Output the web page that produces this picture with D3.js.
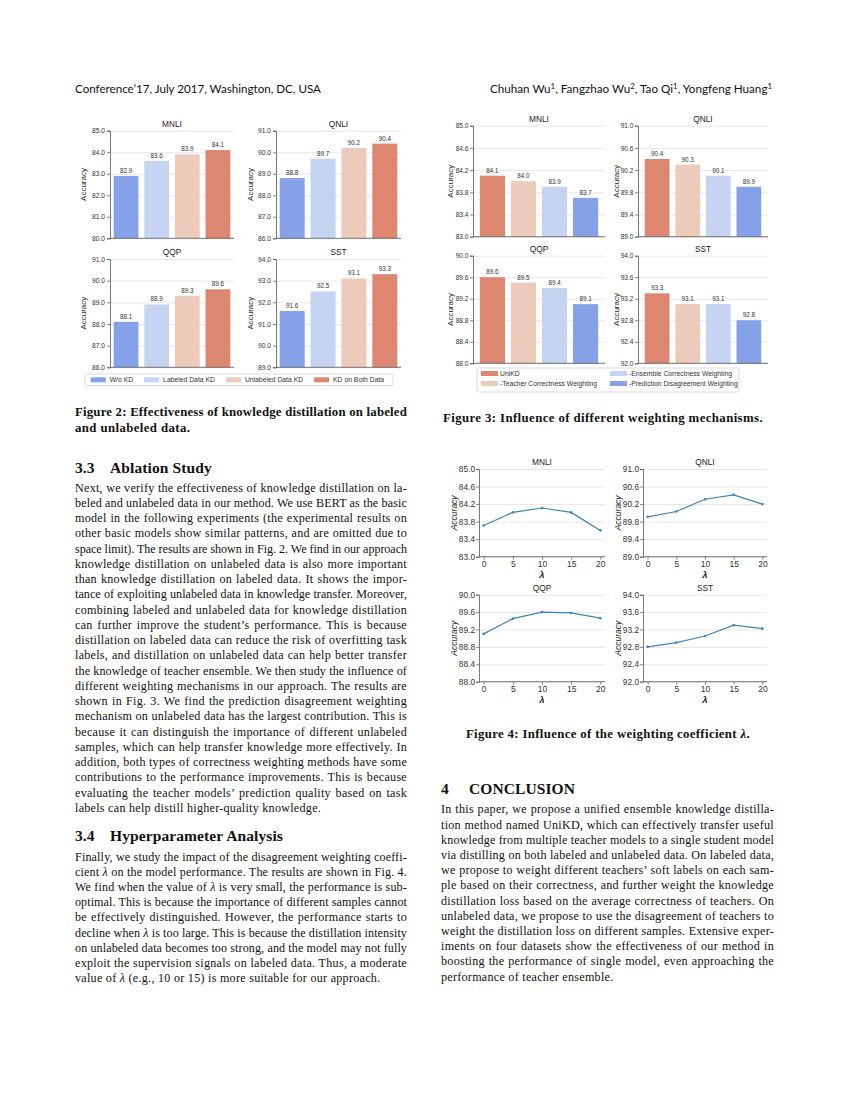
<!DOCTYPE html>
<html>
<head>
<meta charset="utf-8">
<script src="https://cdn.jsdelivr.net/npm/d3@7"></script>
<style>
body { margin: 0; background: #fff; }
svg { display: block; }
</style>
</head>
<body>
<svg id="page" width="850" height="1100"></svg>
<script>
// ---- data ----
const DATASETS = ['MNLI', 'QNLI', 'QQP', 'SST'];

// Figure 2: knowledge distillation on labeled / unlabeled data
const KD_SERIES = ['W/o KD', 'Labeled Data KD', 'Unlabeled Data KD', 'KD on Both Data'];
const KD_MNLI = [82.9, 83.6, 83.9, 84.1];
const KD_QNLI = [88.8, 89.7, 90.2, 90.4];
const KD_QQP = [88.1, 88.9, 89.3, 89.6];
const KD_SST = [91.6, 92.5, 93.1, 93.3];
const KD_TICKS_MNLI = [80, 81, 82, 83, 84, 85];
const KD_TICKS_QNLI = [86, 87, 88, 89, 90, 91];
const KD_TICKS_QQP = [86, 87, 88, 89, 90, 91];
const KD_TICKS_SST = [89, 90, 91, 92, 93, 94];

// Figure 3: weighting mechanisms
const W_SERIES = ['UniKD', '-Teacher Correctness Weighting', '-Ensemble Correctness Weighting', '-Prediction Disagreement Weighting'];
const W_MNLI = [84.1, 84.0, 83.9, 83.7];
const W_QNLI = [90.4, 90.3, 90.1, 89.9];
const W_QQP = [89.6, 89.5, 89.4, 89.1];
const W_SST = [93.3, 93.1, 93.1, 92.8];
const W_TICKS_MNLI = [83.0, 83.4, 83.8, 84.2, 84.6, 85.0];
const W_TICKS_QNLI = [89.0, 89.4, 89.8, 90.2, 90.6, 91.0];
const W_TICKS_QQP = [88.0, 88.4, 88.8, 89.2, 89.6, 90.0];
const W_TICKS_SST = [92.0, 92.4, 92.8, 93.2, 93.6, 94.0];

// Figure 4: weighting coefficient lambda
const LAMBDAS = [0, 5, 10, 15, 20];
const L_MNLI = [83.71, 84.01, 84.11, 84.01, 83.6];
const L_QNLI = [89.91, 90.03, 90.31, 90.41, 90.2];
const L_QQP = [89.1, 89.45, 89.6, 89.58, 89.46];
const L_SST = [92.8, 92.9, 93.05, 93.3, 93.22];

// ---- styles ----
const SANS = '"Liberation Sans", Arial, sans-serif';
const SERIF = '"Liberation Serif", "Times New Roman", serif';
const HEAD = 'Lato, "Open Sans", sans-serif';
const KD_COLORS = ['#85a2e8', '#c5d4f0', '#eccbbb', '#dd8670'];
const W_COLORS = ['#dd8670', '#eccbbb', '#c5d4f0', '#85a2e8'];
const LINE_COLOR = '#3d84bd';
const AXIS = '#555';
const GRID = '#dcdcdc';

const svg = d3.select('#page');
svg.append('rect').attr('width', 850).attr('height', 1100).attr('fill', '#fff');

// ---- panel helpers ----
function frame(g, p, y) {
  g.append('g')
    .attr('transform', `translate(${p.x0},0)`)
    .call(d3.axisLeft(y).tickValues(p.ticks).tickSize(-(p.x1 - p.x0)).tickFormat(''))
    .call(a => a.select('.domain').remove())
    .selectAll('line').attr('stroke', GRID).attr('stroke-width', 0.7);
}

function leftAxis(g, p, y) {
  const ax = g.append('g')
    .attr('transform', `translate(${p.x0},0)`)
    .call(d3.axisLeft(y).tickValues(p.ticks).tickFormat(d3.format('.1f')).tickSize(3).tickPadding(p.tickPad));
  ax.select('.domain').attr('stroke', AXIS).attr('stroke-width', 0.8);
  ax.selectAll('.tick line').attr('stroke', AXIS).attr('stroke-width', 0.7);
  ax.selectAll('.tick text').attr('font-family', SANS).attr('font-size', p.tickFont).attr('fill', '#333');
  g.append('line')
    .attr('x1', p.x0).attr('x2', p.x1).attr('y1', p.y1).attr('y2', p.y1)
    .attr('stroke', AXIS).attr('stroke-width', 0.8);
  g.append('text')
    .attr('x', (p.x0 + p.x1) / 2).attr('y', p.y0 - 4)
    .attr('text-anchor', 'middle')
    .attr('font-family', SANS).attr('font-size', 8.3).attr('fill', '#222')
    .text(p.title);
  // rotated label: baseline sits at labX, glyphs extend to the left
  g.append('text')
    .attr('transform', `translate(${p.labX},${(p.y0 + p.y1) / 2}) rotate(-90)`)
    .attr('text-anchor', 'middle')
    .attr('font-family', SANS).attr('font-size', p.labFont)
    .attr('font-style', p.italicLabel ? 'italic' : 'normal')
    .attr('fill', '#222')
    .text('Accuracy');
}

function barPanel(p) {
  const g = svg.append('g');
  const x = d3.scaleBand().domain(p.labels).range([p.x0, p.x1])
    .paddingInner(0.19).paddingOuter(p.outer);
  const y = d3.scaleLinear().domain([p.ticks[0], p.ticks[p.ticks.length - 1]]).range([p.y1, p.y0]);
  frame(g, p, y);
  const rows = p.values.map((v, i) => ({ k: p.labels[i], v: v, c: p.colors[i] }));
  g.selectAll('rect.bar').data(rows).join('rect')
    .attr('class', 'bar')
    .attr('x', d => x(d.k))
    .attr('width', x.bandwidth())
    .attr('y', d => y(d.v))
    .attr('height', d => p.y1 - y(d.v))
    .attr('fill', d => d.c);
  g.selectAll('text.val').data(rows).join('text')
    .attr('class', 'val')
    .attr('x', d => x(d.k) + x.bandwidth() / 2)
    .attr('y', d => y(d.v) - 3)
    .attr('text-anchor', 'middle')
    .attr('font-family', SANS).attr('font-size', 6.3).attr('fill', '#333')
    .text(d => d3.format('.1f')(d.v));
  leftAxis(g, p, y);
}

function linePanel(p) {
  const g = svg.append('g');
  const x = d3.scaleLinear().domain([-0.8, 20.8]).range([p.x0, p.x1]);
  const y = d3.scaleLinear().domain([p.ticks[0], p.ticks[p.ticks.length - 1]]).range([p.y1, p.y0]);
  frame(g, p, y);
  const pts = LAMBDAS.map((l, i) => ({ l: l, v: p.values[i] }));
  g.append('path').datum(pts)
    .attr('fill', 'none').attr('stroke', LINE_COLOR).attr('stroke-width', 1.2)
    .attr('d', d3.line().x(d => x(d.l)).y(d => y(d.v)));
  g.selectAll('circle').data(pts).join('circle')
    .attr('cx', d => x(d.l)).attr('cy', d => y(d.v)).attr('r', 1.3)
    .attr('fill', LINE_COLOR);
  leftAxis(g, p, y);
  const bx = g.append('g')
    .attr('transform', `translate(0,${p.y1})`)
    .call(d3.axisBottom(x).tickValues(LAMBDAS).tickSize(3).tickPadding(1.5));
  bx.select('.domain').remove();
  bx.selectAll('.tick line').attr('stroke', AXIS).attr('stroke-width', 0.7);
  bx.selectAll('.tick text').attr('font-family', SANS).attr('font-size', 8.5).attr('fill', '#333');
  g.append('text')
    .attr('x', (p.x0 + p.x1) / 2).attr('y', p.y1 + 21)
    .attr('text-anchor', 'middle')
    .attr('font-family', SANS).attr('font-size', 9.5)
    .attr('font-weight', 'bold').attr('font-style', 'italic').attr('fill', '#222')
    .text('λ');
}

// ---- Figure 2 ----
const kdValues = [KD_MNLI, KD_QNLI, KD_QQP, KD_SST];
const kdTicks = [KD_TICKS_MNLI, KD_TICKS_QNLI, KD_TICKS_QQP, KD_TICKS_SST];
const fig2Boxes = [
  { x0: 110, x1: 234, y0: 130.7, y1: 238.3, labX: 86 },
  { x0: 276, x1: 401, y0: 130.7, y1: 238.3, labX: 252.5 },
  { x0: 110, x1: 234, y0: 259, y1: 367.3, labX: 86 },
  { x0: 276, x1: 401, y0: 259, y1: 367.3, labX: 252.5 }
];
fig2Boxes.forEach((b, i) => barPanel(Object.assign({}, b, {
  title: DATASETS[i], values: kdValues[i], ticks: kdTicks[i],
  labels: KD_SERIES, colors: KD_COLORS, outer: 0.12,
  tickFont: 6.7, tickPad: 2, labFont: 8
})));

// legend fig 2
(function () {
  const g = svg.append('g');
  g.append('rect').attr('x', 85).attr('y', 374).attr('width', 308).attr('height', 11.5)
    .attr('fill', '#fff').attr('stroke', '#ccc').attr('stroke-width', 0.7).attr('rx', 1.5);
  let cx = 90.7;
  KD_SERIES.forEach((s, i) => {
    g.append('rect').attr('x', cx).attr('y', 377.3).attr('width', 15).attr('height', 5)
      .attr('fill', KD_COLORS[i]);
    const t = g.append('text').attr('x', cx + 19).attr('y', 382.3)
      .attr('font-family', SANS).attr('font-size', 6.8).attr('fill', '#333').text(s);
    cx += 19 + t.node().getComputedTextLength() + 11;
  });
})();

// ---- Figure 3 ----
const wValues = [W_MNLI, W_QNLI, W_QQP, W_SST];
const wTicks = [W_TICKS_MNLI, W_TICKS_QNLI, W_TICKS_QQP, W_TICKS_SST];
const fig3Boxes = [
  { x0: 473, x1: 605, y0: 125.7, y1: 236.7, labX: 452.5 },
  { x0: 638, x1: 768, y0: 125.7, y1: 236.7, labX: 619 },
  { x0: 473, x1: 605, y0: 255.7, y1: 363.3, labX: 452.5 },
  { x0: 638, x1: 768, y0: 255.7, y1: 363.3, labX: 619 }
];
fig3Boxes.forEach((b, i) => barPanel(Object.assign({}, b, {
  title: DATASETS[i], values: wValues[i], ticks: wTicks[i],
  labels: W_SERIES, colors: W_COLORS, outer: 0.22,
  tickFont: 6.6, tickPad: 1.5, labFont: 8
})));

// legend fig 3: two columns of two entries
(function () {
  const g = svg.append('g');
  g.append('rect').attr('x', 477).attr('y', 368).attr('width', 262).attr('height', 24)
    .attr('fill', '#fff').attr('stroke', '#ccc').attr('stroke-width', 0.7).attr('rx', 1.5);
  const cols = [481, 610];
  W_SERIES.forEach((s, i) => {
    const col = cols[i < 2 ? 0 : 1];
    const r = i % 2;
    g.append('rect').attr('x', col).attr('y', 371 + r * 10).attr('width', 17).attr('height', 5)
      .attr('fill', W_COLORS[i]);
    g.append('text').attr('x', col + 19).attr('y', 376 + r * 10)
      .attr('font-family', SANS).attr('font-size', 6.8).attr('fill', '#333').text(s);
  });
})();

// ---- Figure 4 ----
const lValues = [L_MNLI, L_QNLI, L_QQP, L_SST];
const fig4Boxes = [
  { x0: 479, x1: 605, y0: 469, y1: 556.7, labX: 457 },
  { x0: 643, x1: 767, y0: 469, y1: 556.7, labX: 621 },
  { x0: 479, x1: 605, y0: 594.7, y1: 681.7, labX: 457 },
  { x0: 643, x1: 767, y0: 594.7, y1: 681.7, labX: 621 }
];
fig4Boxes.forEach((b, i) => linePanel(Object.assign({}, b, {
  title: DATASETS[i], values: lValues[i], ticks: wTicks[i], italicLabel: true,
  tickFont: 8.3, tickPad: 1, labFont: 8.5
})));

// ---- page text ----
function addLine(str, x, y, opts) {
  const ls = opts.ls == null ? 0.27 : opts.ls;
  const t = svg.append('text').attr('x', x).attr('y', y)
    .attr('font-family', opts.family || SERIF)
    .attr('font-size', opts.size || 12.1)
    .attr('font-weight', opts.weight || 'normal')
    .attr('letter-spacing', ls)
    .attr('text-anchor', opts.anchor || 'start')
    .attr('fill', '#111');
  // italic lambda keeps its surrounding spaces so its box does not run into neighbours
  str.split(/( ?λ ?)/).forEach(part => {
    if (!part) return;
    const s = t.append('tspan').text(part);
    if (part.indexOf('λ') >= 0) s.attr('font-style', 'italic');
  });
  if (opts.width) {
    let nat = t.node().getComputedTextLength();
    if (nat > opts.width) {
      // too long: tighten the letter spacing instead of squeezing glyphs
      t.attr('letter-spacing', ls - (nat - opts.width + 0.5) / str.length);
      nat = t.node().getComputedTextLength();
    }
    const spaces = (str.match(/ /g) || []).length;
    if (spaces > 0) t.attr('word-spacing', (opts.width - nat) / spaces);
  }
  return t;
}

function para(lines, x, y, lh, w, opts) {
  lines.forEach((ln, i) => {
    const last = i === lines.length - 1;
    addLine(ln, x, y + i * lh, Object.assign({}, opts || {}, { width: last ? null : w }));
  });
}

// running header
addLine('Conference’17, July 2017, Washington, DC, USA', 75, 93, { family: HEAD, size: 11.6, ls: 0 });
(function () {
  const t = svg.append('text').attr('x', 772).attr('y', 93).attr('text-anchor', 'end')
    .attr('font-family', HEAD).attr('font-size', 11.7).attr('fill', '#111');
  const parts = [['Chuhan Wu', '1'], [', Fangzhao Wu', '2'], [', Tao Qi', '1'], [', Yongfeng Huang', '1']];
  parts.forEach((p, i) => {
    t.append('tspan').attr('dy', i === 0 ? 0 : 4).text(p[0]);
    t.append('tspan').attr('dy', -4).attr('font-size', 7.8).text(p[1]);
  });
})();

// figure captions
para(['Figure 2: Effectiveness of knowledge distillation on labeled', 'and unlabeled data.'],
  75, 415.5, 16, 332, { weight: 'bold', size: 12.8, ls: 0.4 });
addLine('Figure 3: Influence of different weighting mechanisms.', 603, 422,
  { weight: 'bold', size: 12.8, ls: 0.4, anchor: 'middle' });
addLine('Figure 4: Influence of the weighting coefficient λ.', 608, 738,
  { weight: 'bold', size: 12.8, ls: 0.35, anchor: 'middle' });

// section headings
function heading(num, title, x, tx, y) {
  addLine(num, x, y, { weight: 'bold', size: 15.5, ls: 0.1 });
  addLine(title, tx, y, { weight: 'bold', size: 15.5, ls: 0.1 });
}
heading('3.3', 'Ablation Study', 75, 110, 472.5);
heading('3.4', 'Hyperparameter Analysis', 75, 110, 841);
heading('4', 'CONCLUSION', 441, 469, 794);

const ABLATION = [
  'Next, we verify the effectiveness of knowledge distillation on la-',
  'beled and unlabeled data in our method. We use BERT as the basic',
  'model in the following experiments (the experimental results on',
  'other basic models show similar patterns, and are omitted due to',
  'space limit). The results are shown in Fig. 2. We find in our approach',
  'knowledge distillation on unlabeled data is also more important',
  'than knowledge distillation on labeled data. It shows the impor-',
  'tance of exploiting unlabeled data in knowledge transfer. Moreover,',
  'combining labeled and unlabeled data for knowledge distillation',
  'can further improve the student’s performance. This is because',
  'distillation on labeled data can reduce the risk of overfitting task',
  'labels, and distillation on unlabeled data can help better transfer',
  'the knowledge of teacher ensemble. We then study the influence of',
  'different weighting mechanisms in our approach. The results are',
  'shown in Fig. 3. We find the prediction disagreement weighting',
  'mechanism on unlabeled data has the largest contribution. This is',
  'because it can distinguish the importance of different unlabeled',
  'samples, which can help transfer knowledge more effectively. In',
  'addition, both types of correctness weighting methods have some',
  'contributions to the performance improvements. This is because',
  'evaluating the teacher models’ prediction quality based on task',
  'labels can help distill higher-quality knowledge.'
];
const HYPER = [
  'Finally, we study the impact of the disagreement weighting coeffi-',
  'cient λ on the model performance. The results are shown in Fig. 4.',
  'We find when the value of λ is very small, the performance is sub-',
  'optimal. This is because the importance of different samples cannot',
  'be effectively distinguished. However, the performance starts to',
  'decline when λ is too large. This is because the distillation intensity',
  'on unlabeled data becomes too strong, and the model may not fully',
  'exploit the supervision signals on labeled data. Thus, a moderate',
  'value of λ (e.g., 10 or 15) is more suitable for our approach.'
];
const CONCLUSION = [
  'In this paper, we propose a unified ensemble knowledge distilla-',
  'tion method named UniKD, which can effectively transfer useful',
  'knowledge from multiple teacher models to a single student model',
  'via distilling on both labeled and unlabeled data. On labeled data,',
  'we propose to weight different teachers’ soft labels on each sam-',
  'ple based on their correctness, and further weight the knowledge',
  'distillation loss based on the average correctness of teachers. On',
  'unlabeled data, we propose to use the disagreement of teachers to',
  'weight the distillation loss on different samples. Extensive exper-',
  'iments on four datasets show the effectiveness of our method in',
  'boosting the performance of single model, even approaching the',
  'performance of teacher ensemble.'
];
para(ABLATION, 75, 491.7, 15.24, 332);
para(HYPER, 75, 861, 15.1, 332);
para(CONCLUSION, 441, 813.3, 15.2, 333);
</script>
</body>
</html>
